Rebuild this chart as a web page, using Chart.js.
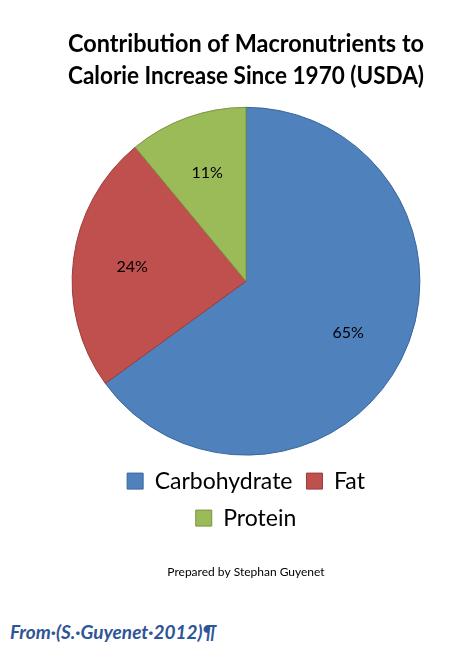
<!DOCTYPE html>
<html><head><meta charset="utf-8">
<script src="https://cdn.jsdelivr.net/npm/chart.js@4"></script>
<style>
body{margin:0;background:#fff;width:474px;height:659px;overflow:hidden;font-family:Lato,sans-serif}
#wrap{position:absolute;left:0;top:0;width:474px;height:600px}
#from{position:absolute;left:10px;top:620px;font:italic bold 19px Lato,sans-serif;color:#2E5597}
</style></head><body>
<div id="wrap"><canvas id="c"></canvas></div>
<div id="from">From·(S.·Guyenet·2012)¶</div>
<script>
const categories=["Carbohydrate","Fat","Protein"];
const values=[65,24,11];
const labels=["65%","24%","11%"];
const colors=["#4F81BD","#C0504D","#9BBB59"];
const borders=["#3A659A","#9A3B39","#789441"];
const pctPlugin={id:'pct',afterDatasetsDraw(chart){
 const ctx=chart.ctx;const meta=chart.getDatasetMeta(0);
 ctx.save();ctx.font='16px Lato, sans-serif';ctx.fillStyle='#000';ctx.textAlign='center';ctx.textBaseline='middle';
 meta.data.forEach((a,i)=>{const p=a.getProps(['x','y','startAngle','endAngle','outerRadius'],true);
  const m=(p.startAngle+p.endAngle)/2;const r=p.outerRadius*0.66;
  ctx.fillText(labels[i],p.x+Math.cos(m)*r,p.y+Math.sin(m)*r);});
 ctx.restore();}};
new Chart(document.getElementById('c'),{type:'pie',
 data:{labels:categories,datasets:[{data:values,backgroundColor:colors,borderColor:borders,borderWidth:1}]},
 options:{responsive:true,maintainAspectRatio:false,animation:false,
  layout:{padding:{left:68,right:50,top:0,bottom:18}},
  plugins:{tooltip:{enabled:false},
   title:{display:true,text:["Contribution of Macronutrients to","Calorie Increase Since 1970 (USDA)"],color:'#000',font:{family:'Lato',size:24,weight:'bold',lineHeight:1.33},padding:{top:28,bottom:15}},
   legend:{position:'bottom',labels:{color:'#000',font:{family:'Lato',size:23},boxWidth:16,boxHeight:16,padding:14}},
   subtitle:{display:true,position:'bottom',text:"Prepared by Stephan Guyenet",color:'#000',font:{family:'Lato',size:12},padding:{top:25,bottom:3}}
  }},plugins:[pctPlugin]});
</script></body></html>
